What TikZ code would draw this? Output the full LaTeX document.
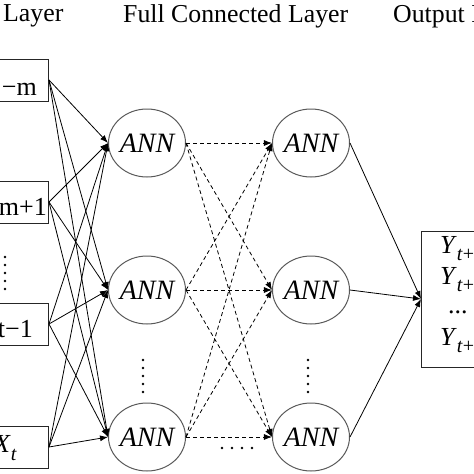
\documentclass[tikz,border=0pt]{standalone}
\usepackage{fontspec}
\setmainfont{Liberation Serif}
\usetikzlibrary{shapes.geometric,arrows.meta}
\begin{document}
\begin{tikzpicture}[x=1pt,y=-1pt,
  box/.style={draw=black!85,line width=1pt,inner sep=0pt},
  ann/.style={draw=black!65,line width=1pt,ellipse,minimum width=77pt,minimum height=68pt,inner sep=0pt,font=\fontsize{28}{30}\selectfont\itshape},
  hdr/.style={anchor=base west,inner sep=0pt,font=\fontsize{25.8}{30}\selectfont},
  lbl/.style={anchor=base east,inner sep=0pt,font=\fontsize{26}{30}\selectfont},
  olbl/.style={anchor=base west,inner sep=0pt,font=\fontsize{26}{30}\selectfont},
  conn/.style={line width=0.8pt,-{Latex[length=8pt,width=6pt]}},
  dconn/.style={conn,dash pattern=on 4pt off 3pt},
  dotc/.style={fill=black}]
\useasboundingbox (0,0) rectangle (474,474);
\clip (0,0) rectangle (474,474);
% headers
\node[hdr] (h1) at (3,21) {Layer};
\node[hdr] (h2) at (123,22) {Full Connected Layer};
\node[hdr] (h3) at (393,22) {Output Layer};
% input boxes
\node[box,minimum width=109pt,minimum height=42pt,anchor=east] (in1) at (49,80) {};
\node[box,minimum width=109pt,minimum height=42pt,anchor=east] (in2) at (49,202) {};
\node[box,minimum width=109pt,minimum height=42pt,anchor=east] (in3) at (49,324) {};
\node[box,minimum width=109pt,minimum height=42pt,anchor=east] (in4) at (49,447) {};
\node[lbl] (l1) at (37,95) {−m};
\node[lbl] (l2) at (47,215) {m+1};
\node[lbl] (l3) at (33,337) {t−1};
\node[lbl] (l4) at (17,452) {\textit{X}\raisebox{-8pt}{\fontsize{20}{20}\selectfont\textit{t}}};
\foreach \yy in {257,265,273,281,289} \fill[dotc] (5,\yy) circle (1.3pt);
% hidden layers
\node[ann] (a1) at (147,143) {ANN};
\node[ann] (a2) at (147,290) {ANN};
\node[ann] (a3) at (147,437) {ANN};
\node[ann] (b1) at (311,143) {ANN};
\node[ann] (b2) at (311,290) {ANN};
\node[ann] (b3) at (311,437) {ANN};
\foreach \yy in {360,368,376,384,392} {\fill[dotc] (143,\yy) circle (1.3pt); \fill[dotc] (308,\yy) circle (1.3pt);}
\foreach \xx in {222,232,242,252} \fill[dotc] (\xx,448) circle (1.3pt);
% output box
\node[box,minimum width=110pt,minimum height=136pt,anchor=west] (out) at (421,299) {};
\node[olbl] (y1) at (440,253) {\textit{Y}\raisebox{-7pt}{\fontsize{20}{20}\selectfont\textit{t}+1}};
\node[olbl] (y2) at (440,284) {\textit{Y}\raisebox{-7pt}{\fontsize{20}{20}\selectfont\textit{t}+2}};
\node[olbl] (y3) at (448,313) {...};
\node[olbl] (y4) at (440,345) {\textit{Y}\raisebox{-7pt}{\fontsize{20}{20}\selectfont\textit{t}+n}};
% connections
\foreach \i in {1,2,3,4} \foreach \j in {1,2,3} \draw[conn] (in\i.east) -- (a\j.west);
\foreach \i in {1,2,3} \foreach \j in {1,2,3} \draw[dconn] (a\i.east) -- (b\j.west);
\foreach \i in {1,2,3} \draw[conn] (b\i.east) -- (out.west);
\end{tikzpicture}
\end{document}
